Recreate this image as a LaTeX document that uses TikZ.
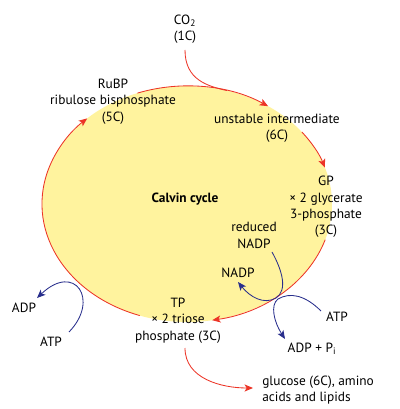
\documentclass[tikz,border=0pt]{standalone}
\usepackage{fontspec}
\setmainfont{PT Sans}
\usetikzlibrary{arrows.meta}
\definecolor{cycred}{RGB}{236,52,38}
\definecolor{cycblue}{RGB}{40,46,140}
\definecolor{cycfill}{RGB}{255,243,158}
\begin{document}
\begin{tikzpicture}[x=0.25mm,y=0.25mm,
  lbl/.style={align=center,inner sep=0pt,font=\fontsize{9.5}{11.7}\selectfont},
  redline/.style={draw=cycred,line width=0.6pt},
  redarr/.style={redline,-{Stealth[length=6pt,width=5pt,inset=1.5pt]}},
  bluearr/.style={draw=cycblue,line width=0.6pt,-{Stealth[length=6pt,width=5pt,inset=1.5pt]}}]
\useasboundingbox (0,0) rectangle (400,409);
\coordinate (c) at (187,205);
\fill[cycfill] (c) ellipse [x radius=145,y radius=118];
\draw[redarr] ([shift={(251:145 and 118)}]c) arc [start angle=251,end angle=133.5,x radius=145,y radius=118];
\draw[redarr] ([shift={(110:145 and 118)}]c) arc [start angle=110,end angle=56,x radius=145,y radius=118];
\draw[redarr] ([shift={(37.6:145 and 118)}]c) arc [start angle=37.6,end angle=18,x radius=145,y radius=118];
\draw[redarr] ([shift={(-17.6:145 and 118)}]c) arc [start angle=-17.6,end angle=-80,x radius=145,y radius=118];
\node[lbl] (co2) at (185,380) {CO\textsubscript{2}\\(1C)};
\node[lbl] (rubp) at (113,307.5) {RuBP\\ribulose bisphosphate\\(5C)};
\node[lbl] (unst) at (277,280.5) {unstable intermediate\\(6C)};
\node[lbl] (gp) at (326,202) {GP\\× 2 glycerate\\3-phosphate\\(3C)};
\node[lbl,font=\fontsize{9.5}{11.7}\selectfont\bfseries] (calvin) at (185,210) {Calvin cycle};
\node[lbl] (rednadp) at (254,173.5) {reduced\\NADP};
\node[lbl] (nadp) at (238,136) {NADP};
\node[lbl] (adpl) at (24,101) {ADP};
\node[lbl] (atpl) at (51,67) {ATP};
\node[lbl] (tp) at (178,88.5) {TP\\× 2 triose\\phosphate (3C)};
\node[lbl] (atpr) at (337,92) {ATP};
\node[lbl] (adppi) at (312,60) {ADP + P\textsubscript{i}};
\node[lbl,align=left,anchor=west] (gluc) at (262,19) {glucose (6C), amino\\acids and lipids};
\coordinate (co2s) at (185,359);
\coordinate (co2e) at ([shift={(74:145 and 118)}]c);
\draw[redline] (co2s) .. controls (185,329) and (207.5,322.9) .. (co2e);
\coordinate (tps) at (185,61);
\coordinate (glue) at (253,21);
\draw[redarr] (tps) .. controls (185,30) and (222,21) .. (glue);
\coordinate (atpls) at (69,77);
\coordinate (adple) at (37,111);
\draw[bluearr] (atpls) .. controls (100,109) and (75,147) .. (adple);
\coordinate (rednadps) at (272,157);
\coordinate (nadpe) at (238,127);
\draw[bluearr] (rednadps) .. controls (282,139) and (288,119) .. (276,111)
  .. controls (264,104) and (250,112) .. (nadpe);
\coordinate (atprs) at (321,98);
\coordinate (adppie) at (285,70);
\draw[bluearr] (atprs) .. controls (305,114) and (290,117) .. (278,110)
  .. controls (270,104) and (274,87) .. (adppie);
\end{tikzpicture}
\end{document}
